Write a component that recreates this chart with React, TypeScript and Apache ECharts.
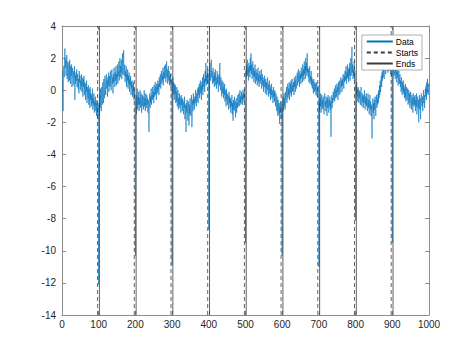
import React, { useEffect, useRef } from "react";
import * as echarts from "echarts";

// Signal values, x = 1..1000 (ten segments of 100 samples)
const seg1 = [
  1.2, -0.3, -1.3, 0.4, 1.5, 0.8, 2.1, 2.6, 1.4, 1.9,
  0.9, 1.6, 2.2, 0.7, 1.3, 1.8, 0.5, 1.1, 1.7, 0.6,
  1.9, 1.2, 0.4, 1.5, 0.9, 1.6, 0.2, 1.0, 1.4, 0.7,
  0.3, 1.2, 0.8, 1.5, -0.6, 0.9, 0.4, 1.1, 0.6, 1.3,
  0.2, 0.8, 1.0, 0.1, 0.7, -0.2, 1.2, 0.5, 0.9, 0.0,
  0.6, 0.3, 1.0, -0.1, 0.8, 0.4, -0.4, 0.7, 0.2, 0.9,
  -0.3, 0.5, 0.1, -0.6, 0.4, -0.1, 0.6, -0.8, 0.2, -0.2,
  -0.5, 0.3, -0.9, 0.1, -0.4, -1.1, 0.2, -0.6, -0.2, -1.0,
  -0.3, -0.8, 0.1, -1.2, -0.5, -0.9, -0.2, -1.4, -0.7, -1.0,
  -0.4, -1.3, -0.8, -1.6, -0.6, -1.1, -1.8, -0.9, -1.5, -12.1,
];
const seg2 = [
  -0.8, -1.6, -0.3, -1.1, 0.1, -0.7, -1.3, 0.2, -0.4, -0.9,
  0.5, -0.2, -0.8, 0.7, 0.0, -0.5, 0.9, 0.3, -0.3, 0.6,
  1.0, 0.1, 0.6, -0.4, 0.8, 0.3, 1.1, -0.1, 0.5, 0.9,
  0.2, 1.2, 0.6, 0.0, 0.9, 1.3, 0.4, 0.8, -0.2, 1.0,
  0.5, 1.4, 0.7, 0.2, 1.1, 0.6, 1.5, 0.3, 1.0, 0.8,
  1.6, 0.4, 1.2, 0.9, 1.8, 0.6, 1.3, 2.0, 0.8, 1.5,
  1.1, 1.9, 0.7, 1.4, 2.3, 1.0, 1.7, 2.5, 0.9, 1.3,
  1.6, 0.5, 1.2, 0.8, 1.5, 0.2, 1.0, 0.6, 1.3, 0.1,
  0.9, 0.4, 1.1, -0.1, 0.7, 0.3, 0.9, -0.3, 0.5, 0.1,
  0.6, -0.4, 0.3, -0.2, 0.5, -0.6, 0.1, -0.3, -0.8, -10.3,
];
const seg3 = [
  -1.0, -0.3, -1.5, -0.6, 0.1, -1.2, -0.4, -0.9, -0.1, -1.3,
  -0.5, -0.9, 0.0, -1.1, -0.6, -0.2, -1.4, -0.7, -0.3, -1.0,
  -0.4, -1.2, -0.7, 0.0, -1.0, -0.5, -1.3, -0.2, -0.8, -1.1,
  -0.3, -0.9, -0.5, -1.4, -0.6, -1.0, -2.6, -0.7, -0.2, -1.1,
  -0.4, -0.8, 0.1, -0.9, -0.3, -0.6, 0.2, -0.5, -0.1, -0.8,
  0.3, -0.4, 0.0, 0.5, -0.3, 0.2, -0.6, 0.4, 0.1, -0.2,
  0.6, 0.0, 0.4, -0.3, 0.8, 0.2, 0.5, 1.0, 0.1, 0.7,
  1.2, 0.4, 0.9, 0.6, 1.4, 0.3, 1.1, 0.8, 1.5, 0.7,
  1.0, 1.6, 0.5, 1.2, 1.8, 0.8, 1.3, 0.4, 1.1, 1.5,
  0.6, 1.2, 0.3, 0.9, 0.5, 1.0, 0.2, 0.7, 0.4, -10.9,
];
const seg4 = [
  0.2, 0.8, -0.3, 0.5, 0.0, -0.6, 0.4, -0.2, 0.3, -0.8,
  -0.1, -0.7, 0.2, -1.0, -0.4, 0.0, -1.2, -0.5, -0.9, -0.2,
  -1.1, -0.4, -0.8, -1.4, -0.3, -0.9, -0.6, -1.3, -0.5, -1.0,
  -1.5, -0.7, -1.1, -0.4, -1.8, -0.9, -1.3, -2.6, -0.8, -1.4,
  -0.6, -1.2, -1.9, -0.7, -1.0, -2.2, -0.9, -1.5, -0.5, -1.1,
  -1.6, -0.8, -0.3, -2.3, -1.0, -0.6, -1.3, -0.2, -0.9, -0.5,
  -1.2, -0.4, -0.8, 0.0, -0.6, -1.0, -0.2, -0.7, 0.1, -0.4,
  -0.8, 0.2, -0.3, 0.4, -0.5, 0.0, 0.6, -0.2, 0.3, -0.6,
  0.5, 0.0, 0.8, -0.3, 0.4, 1.0, 0.2, 0.7, -0.1, 1.2,
  0.5, 1.7, 0.3, 0.9, 0.6, 1.3, 0.4, 1.0, 0.7, -8.7,
];
const seg5 = [
  1.3, 0.9, 1.7, 1.1, 0.6, 1.5, 1.9, 0.8, 1.2, 0.4,
  1.0, 1.4, 0.5, 0.9, 0.2, 1.1, 0.6, 1.3, 0.3, 0.8,
  0.1, 0.7, 1.2, 0.4, 0.9, -0.1, 0.6, 1.0, 0.3, 1.7,
  0.5, 0.0, 0.8, 0.3, -0.4, 0.6, 0.1, -0.2, 0.5, -0.5,
  0.2, -0.3, 0.4, -0.7, 0.0, -0.4, -1.0, 0.1, -0.6, -0.2,
  -0.9, -0.3, -0.6, -1.2, -0.1, -0.8, -0.4, -1.1, -0.5, -1.4,
  -0.7, -1.0, -0.3, -1.5, -0.8, -1.9, -0.6, -1.2, -1.0, -0.4,
  -1.3, -0.7, -1.7, -0.9, -0.5, -1.4, -0.8, -1.1, -0.3, -1.0,
  -0.6, -0.2, -1.0, -0.5, 0.0, -0.8, -0.4, -0.9, -0.1, -0.6,
  -0.3, -0.9, 0.0, -0.5, -0.2, -0.7, 0.1, -0.4, -0.8, -9.5,
];
const seg6 = [
  1.2, 0.8, 1.6, 1.0, 1.9, 0.9, 1.4, 0.6, 1.7, 1.1,
  1.5, 0.8, 2.0, 1.2, 2.3, 1.0, 1.6, 0.7, 1.3, 1.8,
  0.9, 1.4, 0.5, 1.2, 0.8, 1.6, 0.4, 1.0, 1.3, 0.6,
  1.1, 0.3, 0.9, 1.4, 0.5, 1.0, 0.2, 0.8, 1.2, 0.4,
  0.9, 0.6, 1.3, 0.1, 0.7, 1.0, 0.3, 0.8, -0.1, 0.6,
  0.2, 0.9, 0.4, -0.2, 0.7, 0.1, 0.5, -0.3, 0.3, 0.8,
  0.0, 0.4, -0.4, 0.2, 0.6, -0.2, 0.3, -0.6, 0.1, -0.3,
  0.4, -0.5, 0.0, -0.2, -0.8, 0.2, -0.4, -0.1, -0.7, 0.0,
  -0.5, -1.0, -0.2, -0.7, -1.3, -0.4, -0.9, -1.6, -0.6, -1.1,
  -1.5, -0.8, -2.1, -1.0, -1.4, -0.7, -1.8, -1.2, -0.9, -10.3,
];
const seg7 = [
  -0.9, -0.4, -1.3, -0.7, -0.2, -1.0, -0.5, -1.2, -0.1, -0.6,
  -0.3, 0.2, -0.8, -0.1, 0.4, -0.5, 0.1, -0.3, 0.5, -0.6,
  0.0, 0.4, -0.2, 0.6, -0.4, 0.2, 0.7, -0.1, 0.3, 0.0,
  0.5, -0.3, 0.8, 0.2, 0.6, -0.1, 0.9, 0.4, 0.1, 0.7,
  1.1, 0.3, 0.8, 1.3, 0.5, 0.9, 0.2, 1.2, 0.7, 1.0,
  0.4, 1.4, 0.8, 1.1, 0.5, 1.6, 0.9, 1.3, 0.6, 1.8,
  1.0, 1.5, 0.7, 2.0, 1.2, 1.7, 0.9, 2.3, 1.1, 1.4,
  0.8, 1.3, 0.5, 1.0, 1.5, 0.4, 0.9, 0.6, 1.2, 0.3,
  0.8, 0.1, 0.6, 0.3, -0.2, 0.7, 0.2, -0.1, 0.5, 0.0,
  0.4, -0.3, 0.2, 0.5, -0.4, 0.1, -0.2, 0.3, -0.5, -11.0,
];
const seg8 = [
  -0.8, -1.3, -0.5, -1.0, -0.2, -1.4, -0.7, -0.3, -1.1, -0.6,
  -1.2, -0.4, -0.9, -1.5, -0.6, -0.2, -1.0, -0.7, -1.3, -0.4,
  -0.9, -1.6, -0.5, -1.1, -0.3, -0.8, -1.4, -0.6, -1.0, -0.4,
  -1.2, -0.7, -2.9, -0.9, -0.3, -1.1, -0.5, -0.8, -0.1, -0.6,
  -0.3, 0.1, -0.7, -0.2, 0.3, -0.5, 0.0, -0.4, 0.4, -0.1,
  0.2, -0.6, 0.5, 0.0, -0.3, 0.6, 0.1, -0.2, 0.4, 0.8,
  0.2, 0.6, -0.1, 0.7, 0.3, 1.0, 0.4, 0.1, 0.9, 0.5,
  1.2, 0.6, 0.9, 1.5, 0.4, 1.1, 0.7, 1.6, 0.8, 1.3,
  0.5, 1.4, 0.9, 1.7, 0.6, 1.2, 2.0, 0.9, 1.5, 2.7,
  1.1, 1.6, 0.7, 1.3, 0.9, 1.8, 0.6, 1.2, 0.8, -8.1,
];
const seg9 = [
  0.3, -0.2, 0.5, -0.4, 0.1, -0.7, 0.2, -0.3, -0.8, 0.0,
  -0.5, -0.1, -0.9, -0.3, 0.2, -0.6, -1.0, -0.2, -0.7, -0.4,
  -1.1, -0.3, -0.8, 0.0, -0.6, -1.2, -0.4, -0.9, -0.2, -1.0,
  -0.5, -1.3, -0.7, -0.2, -1.1, -0.6, -1.5, -0.8, -0.3, -1.2,
  -0.7, -1.6, -0.9, -2.1, -3.0, -1.0, -0.5, -1.4, -0.8, -1.8,
  -0.6, -1.2, -0.4, -1.0, -1.6, -0.7, -0.3, -1.1, -0.5, -0.9,
  -0.2, -0.8, 0.0, -0.5, 0.3, -0.3, 0.6, -0.1, 0.4, 0.9,
  0.2, 1.1, 0.6, 1.5, 0.8, 1.9, 1.2, 0.7, 2.2, 1.4,
  1.8, 1.0, 2.5, 1.3, 2.0, 1.6, 2.8, 1.1, 1.9, 2.4,
  1.2, 2.1, 1.5, 2.6, 1.0, 1.7, 2.2, 0.9, 1.4, -9.5,
];
const seg10 = [
  1.8, 1.2, 2.4, 1.5, 0.9, 2.0, 1.3, 0.7, 1.6, 1.0,
  1.4, 0.5, 1.1, 0.8, 1.5, 0.3, 0.9, 1.2, 0.4, 0.7,
  1.0, 0.2, 0.6, -0.1, 0.8, 0.3, -0.3, 0.5, 0.0, 0.6,
  -0.2, 0.3, -0.5, 0.1, -0.4, 0.4, -0.7, -0.1, 0.2, -0.6,
  -0.3, 0.1, -0.9, -0.4, 0.0, -0.8, -0.2, -1.1, -0.5, -0.1,
  -0.7, -1.2, -0.3, -0.9, -0.5, -1.4, -0.2, -0.8, -1.0, -0.4,
  -0.9, -0.3, -1.3, -0.6, -1.0, -0.2, -1.5, -0.7, -0.4, -1.1,
  -0.6, -2.0, -0.8, -0.3, -1.2, -0.5, -1.8, -0.9, -0.2, -0.7,
  -1.0, -0.4, -1.3, -0.6, 0.0, -0.8, -0.3, -1.1, -0.5, 0.1,
  -0.4, 0.3, -0.6, 0.5, -0.2, 0.7, 0.0, -0.3, 0.4, 0.2,
];

const starts = [97, 197, 297, 397, 497, 597, 697, 797, 897];
const ends = [102, 202, 302, 402, 502, 602, 702, 802, 902];

const X_MIN = 0;
const X_MAX = 1000;
const Y_MIN = -14;
const Y_MAX = 4;

const DATA_COLOR = "#0072BD";
const MARK_COLOR = "#3a3a3a";
const FONT = "'Liberation Sans', Arial, Helvetica, sans-serif";

export default function App() {
  const ref = useRef<HTMLDivElement>(null);

  useEffect(() => {
    if (!ref.current) return;
    const chart = echarts.init(ref.current, undefined, { renderer: "svg" });

    const values = [
      ...seg1, ...seg2, ...seg3, ...seg4, ...seg5,
      ...seg6, ...seg7, ...seg8, ...seg9, ...seg10,
    ];
    const dataPts = values.map((v, i) => [i + 1, v]);
    const vlines = (xs: number[]) =>
      xs.flatMap((x) => [[x, Y_MIN], [x, Y_MAX], [x, "-"]]);

    const axisLine = { show: true, onZero: false, lineStyle: { color: "#8c8c8c", width: 1 } };
    const tickStyle = { inside: true, length: 4, lineStyle: { color: "#8c8c8c" } };
    const labelStyle = {
      color: "#262626",
      fontSize: 10,
      fontFamily: FONT,
      formatter: (v: number) => String(v),
    };

    chart.setOption({
      animation: false,
      backgroundColor: "#ffffff",
      grid: { left: 62, right: 45, top: 26, bottom: 40, containLabel: false },
      legend: {
        orient: "vertical",
        right: 52,
        top: 35,
        itemWidth: 26,
        itemHeight: 6,
        itemGap: 2,
        padding: [2, 4, 2, 4],
        backgroundColor: "#ffffff",
        borderColor: "#9a9a9a",
        borderWidth: 0.8,
        itemStyle: { opacity: 0 },
        textStyle: { fontSize: 8.5, color: "#000", fontFamily: FONT, padding: [0, 0, 0, -2] },
        data: ["Data", "Starts", "Ends"],
      },
      xAxis: [
        {
          type: "value",
          min: X_MIN,
          max: X_MAX,
          interval: 100,
          position: "bottom",
          axisLine,
          axisTick: tickStyle,
          axisLabel: { ...labelStyle, margin: 4 },
          splitLine: { show: false },
        },
        {
          type: "value",
          min: X_MIN,
          max: X_MAX,
          interval: 100,
          position: "top",
          axisLine,
          axisTick: tickStyle,
          axisLabel: { show: false },
          splitLine: { show: false },
        },
      ],
      yAxis: [
        {
          type: "value",
          min: Y_MIN,
          max: Y_MAX,
          interval: 2,
          position: "left",
          axisLine,
          axisTick: tickStyle,
          axisLabel: { ...labelStyle, margin: 6 },
          splitLine: { show: false },
        },
        {
          type: "value",
          min: Y_MIN,
          max: Y_MAX,
          interval: 2,
          position: "right",
          axisLine,
          axisTick: tickStyle,
          axisLabel: { show: false },
          splitLine: { show: false },
        },
      ],
      series: [
        {
          name: "Data",
          type: "line",
          data: dataPts,
          symbol: "none",
          lineStyle: { color: DATA_COLOR, width: 0.6 },
          itemStyle: { color: DATA_COLOR },
        },
        {
          name: "Starts",
          type: "line",
          data: vlines(starts),
          symbol: "none",
          connectNulls: false,
          lineStyle: { color: MARK_COLOR, width: 0.8, type: [4, 3] },
          itemStyle: { color: MARK_COLOR },
        },
        {
          name: "Ends",
          type: "line",
          data: vlines(ends),
          symbol: "none",
          connectNulls: false,
          lineStyle: { color: MARK_COLOR, width: 0.8 },
          itemStyle: { color: MARK_COLOR },
        },
      ],
    });

    return () => chart.dispose();
  }, []);

  return (
    <div
      ref={ref}
      style={{ position: "fixed", left: 0, top: 0, width: 474, height: 355 }}
    />
  );
}
